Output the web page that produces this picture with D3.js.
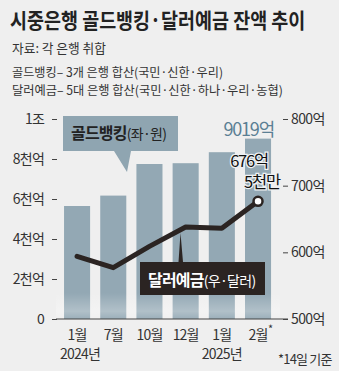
<!DOCTYPE html>
<html>
<head>
<meta charset="utf-8">
<script src="https://cdn.jsdelivr.net/npm/d3@7"></script>
<style>
  html, body { margin: 0; padding: 0; background: #efefef; }
  svg { display: block; }
  text { font-family: "Noto Sans CJK KR", "Noto Sans", sans-serif; }
</style>
</head>
<body>
<svg id="chart" width="339" height="371"></svg>
<script>
// 월별 시점
const months = ["1월", "7월", "10월", "12월", "1월 ", "2월"];
const monthLabels = ["1월", "7월", "10월", "12월", "1월", "2월"];
// 골드뱅킹 잔액(억원, 좌축)
const goldBanking = [5650, 6170, 7750, 7790, 8340, 9019];
// 달러예금 잔액(억달러, 우축)
const dollarDeposit = [594, 577, 609, 638, 636, 676.5];
// 축 눈금
const leftTicks = [0, 2000, 4000, 6000, 8000, 10000];
const leftTickLabels = ["0", "2천억", "4천억", "6천억", "8천억", "1조"];
const rightTicks = [500, 600, 700, 800];
const rightTickLabels = ["500억", "600억", "700억", "800억"];

const svg = d3.select("#chart");
const W = 339, H = 371;
svg.append("rect").attr("width", W).attr("height", H).attr("fill", "#efefef");

// 가로로 좁힌 글자: 기준점(x0)을 중심으로 f배 압축
function condensed(sel, x0, f) {
  return sel.attr("transform", `translate(${x0},0) scale(${f},1) translate(${-x0},0)`);
}

// 제목과 출처
condensed(svg.append("text").attr("x", 10).attr("y", 28)
  .attr("font-size", 21).attr("font-weight", 700).attr("fill", "#222")
  .text("시중은행 골드뱅킹·달러예금 잔액 추이"), 10, 0.88);
svg.append("text").attr("x", 12).attr("y", 53)
  .attr("font-size", 13).attr("fill", "#333")
  .attr("textLength", 94).attr("lengthAdjust", "spacingAndGlyphs")
  .text("자료: 각 은행 취합");
svg.append("text").attr("x", 12).attr("y", 77)
  .attr("font-size", 12.5).attr("fill", "#333")
  .attr("textLength", 211).attr("lengthAdjust", "spacingAndGlyphs")
  .text("골드뱅킹– 3개 은행 합산(국민·신한·우리)");
svg.append("text").attr("x", 12).attr("y", 95)
  .attr("font-size", 12.5).attr("fill", "#333")
  .attr("textLength", 271).attr("lengthAdjust", "spacingAndGlyphs")
  .text("달러예금– 5대 은행 합산(국민·신한·하나·우리·농협)");

// 스케일
const x = d3.scaleBand().domain(months).range([56.8, 278.3])
  .paddingInner(0.28).paddingOuter(0.2);
const yL = d3.scaleLinear().domain([0, 10000]).range([319, 119]);
const yR = d3.scaleLinear().domain([500, 800]).range([319, 119]);

// 막대 하단 그라데이션
const defs = svg.append("defs");
const haze = defs.append("linearGradient").attr("id", "haze")
  .attr("x1", 0).attr("x2", 0).attr("y1", 0).attr("y2", 1);
haze.append("stop").attr("offset", "0%").attr("stop-color", "#fff").attr("stop-opacity", 0);
haze.append("stop").attr("offset", "70%").attr("stop-color", "#fff").attr("stop-opacity", 0.28);
haze.append("stop").attr("offset", "100%").attr("stop-color", "#fff").attr("stop-opacity", 0.08);

// 골드뱅킹 막대
svg.append("g").selectAll("rect").data(goldBanking).join("rect")
  .attr("x", (d, i) => x(months[i]))
  .attr("y", d => yL(d))
  .attr("width", x.bandwidth())
  .attr("height", d => yL(0) - yL(d))
  .attr("fill", "#93a8b4");
svg.append("rect").attr("x", 56).attr("y", 293).attr("width", 224).attr("height", 26)
  .attr("fill", "url(#haze)");

// 왼쪽 축
const leftAxis = d3.axisLeft(yL).tickValues(leftTicks)
  .tickFormat((d, i) => leftTickLabels[i]).tickSize(5).tickPadding(8);
const gl = svg.append("g").attr("transform", "translate(57,0)").call(leftAxis);
gl.select(".domain").remove();
gl.selectAll("line").attr("stroke", "#444");
gl.selectAll("text").attr("font-size", 14).attr("fill", "#333")
  .attr("font-family", "'Noto Sans CJK KR', sans-serif")
  .attr("letter-spacing", -0.8);

// 오른쪽 축
const rightAxis = d3.axisRight(yR).tickValues(rightTicks)
  .tickFormat((d, i) => rightTickLabels[i]).tickSize(5).tickPadding(3);
const gr = svg.append("g").attr("transform", "translate(283,0)").call(rightAxis);
gr.select(".domain").remove();
gr.selectAll("line").attr("stroke", "#444");
gr.selectAll("text").attr("font-size", 14).attr("fill", "#333")
  .attr("font-family", "'Noto Sans CJK KR', sans-serif")
  .attr("letter-spacing", -0.6);

// 기준선
svg.append("line").attr("x1", 56).attr("x2", 288).attr("y1", yL(0)).attr("y2", yL(0))
  .attr("stroke", "#444").attr("stroke-width", 1.2);

// x축 라벨
const gx = svg.append("g");
gx.selectAll("text.m").data(monthLabels).join("text").attr("class", "m")
  .attr("x", (d, i) => x.bandwidth() / 2 + x(months[i]))
  .attr("y", 340).attr("text-anchor", "middle")
  .attr("font-size", 14).attr("fill", "#333").attr("letter-spacing", -0.8)
  .text(d => d);
gx.append("text").attr("x", x(months[5]) + x.bandwidth() / 2 + 10).attr("y", 333)
  .attr("font-size", 11).attr("fill", "#333").text("*");
gx.append("text").attr("x", x(months[0]) + x.bandwidth() / 2 + 3).attr("y", 359)
  .attr("text-anchor", "middle").attr("font-size", 14).attr("fill", "#333")
  .attr("letter-spacing", -0.8).text("2024년");
gx.append("text").attr("x", x(months[4]) + x.bandwidth() / 2).attr("y", 359)
  .attr("text-anchor", "middle").attr("font-size", 14).attr("fill", "#333")
  .attr("letter-spacing", -0.8).text("2025년");
gx.append("text").attr("x", 278).attr("y", 364)
  .attr("font-size", 13).attr("fill", "#333").attr("letter-spacing", -0.8)
  .text("*14일 기준");

// 골드뱅킹 말풍선
const cx = i => x(months[i]) + x.bandwidth() / 2;
svg.append("path")
  .attr("d", "M63,116 H178 V151 H131 L127,172 L114,151 H63 Z")
  .attr("fill", "#8fa5b1");
const t1 = svg.append("text").attr("x", 71).attr("y", 139).attr("fill", "#222");
t1.append("tspan").attr("font-size", 16).attr("font-weight", 700)
  .attr("letter-spacing", -0.8).text("골드뱅킹");
t1.append("tspan").attr("font-size", 14).attr("letter-spacing", -0.7).text("(좌·원)");

// 달러예금 선
const line = d3.line().x((d, i) => cx(i)).y(d => yR(d));
svg.append("path").datum(dollarDeposit).attr("d", line)
  .attr("fill", "none").attr("stroke", "#2b2422").attr("stroke-width", 5)
  .attr("stroke-linejoin", "round").attr("stroke-linecap", "round");

// 달러예금 말풍선
svg.append("path")
  .attr("d", `M140,262 H265 V295 H140 Z M178.5,262 L180.5,${yR(dollarDeposit[3]) + 6} L183,262 Z`)
  .attr("fill", "#2b2422");
const t2 = svg.append("text").attr("x", 148).attr("y", 286).attr("fill", "#fff");
t2.append("tspan").attr("font-size", 16).attr("font-weight", 700)
  .attr("letter-spacing", -0.8).text("달러예금");
t2.append("tspan").attr("font-size", 14).attr("letter-spacing", -0.7).text("(우·달러)");

// 끝점 표시
svg.append("circle").attr("cx", cx(5)).attr("cy", yR(dollarDeposit[5])).attr("r", 4.5)
  .attr("fill", "#fff").attr("stroke", "#2b2422").attr("stroke-width", 2.5);

// 값 라벨
svg.append("text").attr("x", 274).attr("y", 135.5).attr("text-anchor", "end")
  .attr("font-size", 18).attr("fill", "#5b7f94").attr("letter-spacing", -1.2)
  .text("9019억");
svg.append("text").attr("x", 268).attr("y", 167).attr("text-anchor", "end")
  .attr("font-size", 16.5).attr("fill", "#111").attr("letter-spacing", -1.2)
  .attr("stroke", "#eef1f3").attr("stroke-width", 2.5).attr("paint-order", "stroke")
  .text("676억");
svg.append("text").attr("x", 280).attr("y", 188).attr("text-anchor", "end")
  .attr("font-size", 16.5).attr("fill", "#111").attr("letter-spacing", -1.2)
  .attr("stroke", "#eef1f3").attr("stroke-width", 2.5).attr("paint-order", "stroke")
  .text("5천만");
</script>
</body>
</html>
